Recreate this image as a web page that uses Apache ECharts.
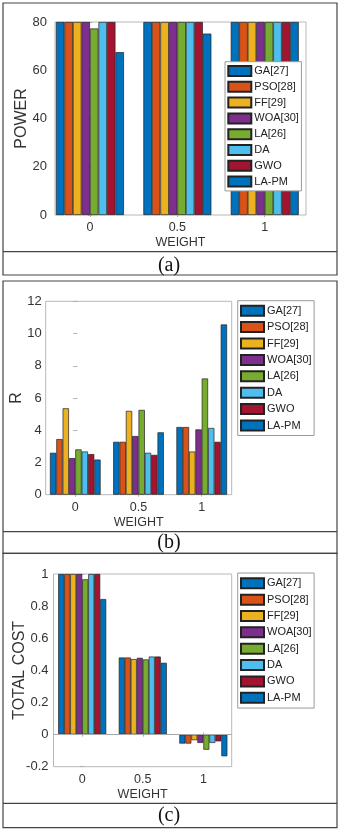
<!DOCTYPE html>
<html>
<head>
<meta charset="utf-8">
<title>Weight sweep: power, R and total cost</title>
<script src="https://cdn.jsdelivr.net/npm/echarts@6/dist/echarts.min.js"></script>
<style>
  html, body { margin: 0; padding: 0; background: #fff; }
  #chart { width: 340px; height: 830px; }
</style>
</head>
<body>
<div id="chart"></div>
<script>
// Weight values on the x axis and the compared methods
const weights = [0, 0.5, 1];
const methods = ['GA[27]', 'PSO[28]', 'FF[29]', 'WOA[30]', 'LA[26]', 'DA', 'GWO', 'LA-PM'];

// One row per method, one entry per weight
const power = [
  [80, 80, 80],
  [80, 80, 80],
  [80, 80, 80],
  [80, 80, 80],
  [77.3, 80, 80],
  [80, 80, 80],
  [80, 80, 80],
  [67.5, 75.2, 80]
];
const ratio = [
  [2.6, 3.28, 4.2],
  [3.45, 3.28, 4.2],
  [5.36, 5.2, 2.68],
  [2.27, 3.64, 4.05],
  [2.81, 5.26, 7.21],
  [2.68, 2.6, 4.14],
  [2.52, 2.47, 3.28],
  [2.18, 3.87, 10.56]
];
const totalCost = [
  [1, 0.48, -0.056],
  [1, 0.48, -0.056],
  [1, 0.47, -0.035],
  [1, 0.478, -0.052],
  [0.967, 0.468, -0.094],
  [1, 0.486, -0.052],
  [1, 0.486, -0.042],
  [0.844, 0.447, -0.135]
];

// Tick labels
const powerTicks = [0, 20, 40, 60, 80];
const ratioTicks = [0, 2, 4, 6, 8, 10, 12];
const costTicks = [-0.2, 0, 0.2, 0.4, 0.6, 0.8, 1];

// MATLAB-style colour order (wraps for the eighth series)
const palette = ['#0072BD', '#D95319', '#EDB120', '#7E2F8E', '#77AC30', '#4DBEEE', '#A2142F', '#0072BD'];

const FONT = 'Liberation Sans, Arial, Helvetica, sans-serif';
const TEXT = '#333';

// Layout of the three stacked panels
const panels = [
  { values: power, ticks: powerTicks, yName: 'POWER', yNameGap: 25,
    grid: { left: 55, top: 22, width: 251, height: 193 },
    xMin: -0.2, xMax: 1.236, barW: 8.5, labelMargin: 8,
    legend: { left: 225, top: 61.7, gap: 3.8, pad: 3.3 },
    box: [3, 275], sep: 251.7, tag: '(a)', tagY: 265.5, zeroLine: false },
  { values: ratio, ticks: ratioTicks, yName: 'R', yNameGap: 21,
    grid: { left: 45.7, top: 301.3, width: 186, height: 193.4 },
    xMin: -0.234, xMax: 1.237, barW: 6.33, labelMargin: 4,
    legend: { left: 237.7, top: 300.7, gap: 4.4, pad: 4 },
    box: [281, 553.3], sep: 531.7, tag: '(b)', tagY: 542.5, zeroLine: false },
  { values: totalCost, ticks: costTicks, yName: 'TOTAL COST', yNameGap: 25.5,
    grid: { left: 53.5, top: 574, width: 178.2, height: 192.7 },
    xMin: -0.237, xMax: 1.234, barW: 6.0, labelMargin: 5,
    legend: { left: 237.7, top: 573, gap: 4.35, pad: 4.3 },
    box: [553.3, 827.7], sep: 803.3, tag: '(c)', tagY: 816, zeroLine: true }
];

const grids = [], xAxes = [], yAxes = [], legends = [], series = [], graphics = [];

panels.forEach((p, i) => {
  const t = p.ticks;
  const yStep = t[1] - t[0];
  grids.push(Object.assign({ show: true, borderColor: '#b8b8b8', borderWidth: 1,
    backgroundColor: '#fff', containLabel: false, outerBoundsMode: 'none' }, p.grid));

  // bottom axis with labels and name
  xAxes.push({
    gridIndex: i, type: 'value', min: p.xMin, max: p.xMax, position: 'bottom',
    name: 'WEIGHT', nameLocation: 'middle', nameGap: 21, nameMoveOverlap: false,
    nameTextStyle: { fontFamily: FONT, fontSize: 12.5, color: TEXT },
    axisLine: { show: false }, splitLine: { show: false },
    axisTick: { show: true, inside: true, length: 2, customValues: weights, lineStyle: { color: '#aaa' } },
    axisLabel: { show: true, margin: 6, customValues: weights, fontFamily: FONT, fontSize: 12.5, color: TEXT,
      formatter: v => String(v) }
  });
  // mirrored top ticks
  xAxes.push({
    gridIndex: i, type: 'value', min: p.xMin, max: p.xMax, position: 'top',
    axisLine: { show: false }, splitLine: { show: false }, axisLabel: { show: false },
    axisTick: { show: true, inside: true, length: 2, customValues: weights, lineStyle: { color: '#aaa' } }
  });

  yAxes.push({
    gridIndex: i, type: 'value', min: t[0], max: t[t.length - 1], interval: yStep, position: 'left',
    name: p.yName, nameLocation: 'middle', nameGap: p.yNameGap, nameMoveOverlap: false,
    nameTextStyle: { fontFamily: FONT, fontSize: 16, color: TEXT },
    axisLine: { show: false }, splitLine: { show: false },
    axisTick: { show: true, inside: true, length: 2, lineStyle: { color: '#aaa' } },
    axisLabel: { margin: p.labelMargin, fontFamily: FONT, fontSize: 13, color: TEXT,
      formatter: v => String(Math.round(v * 100) / 100) }
  });
  yAxes.push({
    gridIndex: i, type: 'value', min: t[0], max: t[t.length - 1], interval: yStep, position: 'right',
    axisLine: { show: false }, splitLine: { show: false }, axisLabel: { show: false },
    axisTick: { show: true, inside: true, length: 2, lineStyle: { color: '#aaa' } }
  });

  legends.push({
    orient: 'vertical', left: p.legend.left, top: p.legend.top,
    itemWidth: 23, itemHeight: 10, itemGap: p.legend.gap,
    padding: [p.legend.pad, 2.5, p.legend.pad, 2.3],
    backgroundColor: '#fff', borderColor: '#9a9a9a', borderWidth: 1, borderRadius: 0,
    icon: 'rect', selectedMode: false,
    textStyle: { fontFamily: FONT, fontSize: 11, color: '#222', lineHeight: 10, padding: [0, 0, 0, -2] },
    data: methods
  });

  methods.forEach((m, k) => {
    const s = {
      name: m, type: 'bar', xAxisIndex: i * 2, yAxisIndex: i * 2,
      barWidth: p.barW, barGap: '0%',
      itemStyle: { color: palette[k], borderColor: '#222', borderWidth: 0.7 },
      data: weights.map((w, j) => [w, p.values[k][j]])
    };
    if (p.zeroLine && k === 0) {
      s.markLine = { silent: true, symbol: 'none', animation: false,
        label: { show: false }, lineStyle: { color: '#a8a8a8', width: 1, type: 'solid' },
        data: [{ yAxis: 0 }] };
    }
    series.push(s);
  });

  // panel frame, caption separator and caption letter
  graphics.push({ type: 'rect', shape: { x: 3, y: p.box[0], width: 334, height: p.box[1] - p.box[0] },
    style: { fill: 'none', stroke: '#444', lineWidth: 1.2 }, z: 100 });
  graphics.push({ type: 'line', shape: { x1: 3, y1: p.sep, x2: 337, y2: p.sep },
    style: { stroke: '#444', lineWidth: 1.2 }, z: 100 });
  graphics.push({ type: 'text', x: 169, y: p.tagY, z: 100,
    style: { text: p.tag, fontFamily: 'Liberation Serif, Times New Roman, serif', fontSize: 20,
      fill: '#111', align: 'center', verticalAlign: 'middle' } });
});

const chart = echarts.init(document.getElementById('chart'), null, { renderer: 'canvas' });
chart.setOption({
  animation: false,
  backgroundColor: '#fff',
  grid: grids,
  xAxis: xAxes,
  yAxis: yAxes,
  legend: legends,
  series: series,
  graphic: { elements: graphics }
});
</script>
</body>
</html>
